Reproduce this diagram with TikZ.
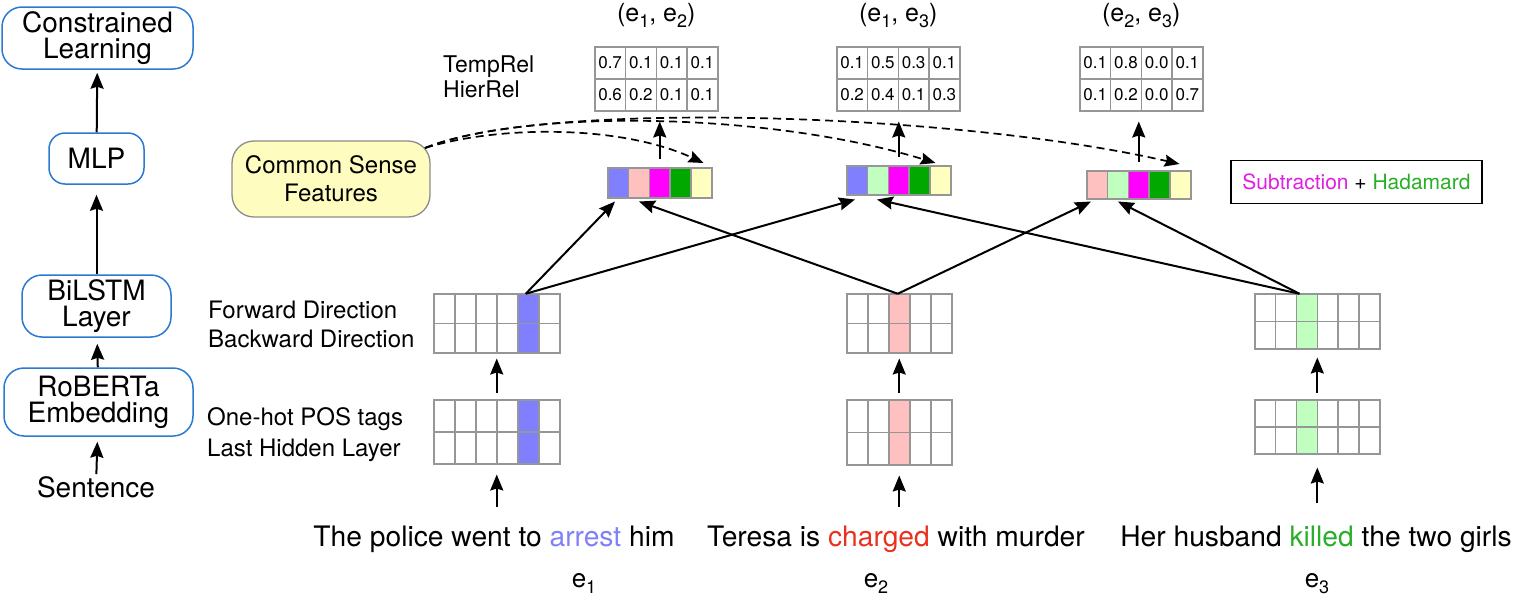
\documentclass[tikz,border=0pt]{standalone}
\usepackage{fontspec}
\setmainfont{TeX Gyre Heros}
\usetikzlibrary{arrows.meta,matrix}
\definecolor{boxblue}{RGB}{42,122,212}
\definecolor{gridgray}{RGB}{150,150,150}
\definecolor{csgray}{RGB}{140,140,140}
\definecolor{cblue}{RGB}{128,128,255}
\definecolor{cpink}{RGB}{255,192,192}
\definecolor{cgreenl}{RGB}{192,255,192}
\definecolor{cmag}{RGB}{255,0,255}
\definecolor{cgreen}{RGB}{0,168,0}
\definecolor{cyel}{RGB}{255,255,192}
\definecolor{csyel}{RGB}{254,252,190}
\definecolor{tblue}{RGB}{128,128,250}
\definecolor{tred}{RGB}{232,50,30}
\definecolor{tgreen}{RGB}{40,175,40}
\definecolor{tmag}{RGB}{225,30,225}
\newcommand{\myfs}[2]{\fontsize{#1}{#2}\selectfont}
\newcommand{\mysub}[1]{\raisebox{-0.25em}{\myfs{18}{18}#1}}
\begin{document}
\begin{tikzpicture}[x=1pt,y=-1pt,
  arr/.style={line width=2pt,-{Stealth[length=16pt,width=13pt,inset=2pt]}},
  dsh/.style={line width=1.7pt,dash pattern=on 8pt off 5pt,-{Stealth[length=15pt,width=12pt,inset=2pt]}},
  lbox/.style={draw=boxblue,line width=1.5pt,rounded corners=20pt,align=center,inner sep=0pt,font=\myfs{28}{26}},
  gridm/.style={matrix of nodes,nodes in empty cells,inner sep=0pt,outer sep=0pt,column sep=-1.5pt,row sep=-1.5pt,anchor=north west,
    nodes={draw=gridgray,line width=1.5pt,inner sep=0pt,outer sep=0pt,anchor=center}},
  tabm/.style={gridm,nodes={minimum width=30.75pt,minimum height=32pt,font=\myfs{17}{17}}},
  lbl/.style={anchor=base west,font=\myfs{24}{24},inner sep=0pt},
  sent/.style={anchor=base,font=\myfs{28.2}{28},inner sep=0pt},
  elbl/.style={anchor=base,font=\myfs{26}{26},inner sep=0pt}
]
\useasboundingbox (0,0) rectangle (1513,600);

% ---------- left column ----------
\node[lbox,minimum width=191pt,minimum height=62pt] (cl) at (97.5,38) {Constrained\\Learning};
\node[lbox,rounded corners=16pt,minimum width=95pt,minimum height=51pt] (mlp) at (96.5,158.5) {MLP};
\node[lbox,minimum width=149pt,minimum height=62pt] (bil) at (96.5,306) {BiLSTM\\Layer};
\node[lbox,minimum width=189pt,minimum height=68pt] (rob) at (98.5,402) {RoBERTa\\Embedding};
\node[font=\myfs{28}{28},inner sep=2pt] (sen) at (96,487) {Sentence};
\draw[arr,shorten >=5pt] (sen) -- (rob);
\draw[arr,shorten >=6pt] (rob) -- (bil);
\draw[arr,shorten >=10pt] (bil) -- (mlp);
\draw[arr,shorten >=3pt] (mlp) -- (cl);

% ---------- top tables ----------
\matrix[tabm] (t1) at (594,46) {
0.7 & 0.1 & 0.1 & 0.1\\
0.6 & 0.2 & 0.1 & 0.1\\
};
\matrix[tabm] (t2) at (836,46) {
0.1 & 0.5 & 0.3 & 0.1\\
0.2 & 0.4 & 0.1 & 0.3\\
};
\matrix[tabm] (t3) at (1079,46) {
0.1 & 0.8 & 0.0 & 0.1\\
0.1 & 0.2 & 0.0 & 0.7\\
};
\node[anchor=base,font=\myfs{25}{25},inner sep=0pt] (p12) at (t1.north |- 0,21) {(e\mysub{1}, e\mysub{2})};
\node[anchor=base,font=\myfs{25}{25},inner sep=0pt] (p13) at (t2.north |- 0,21) {(e\mysub{1}, e\mysub{3})};
\node[anchor=base,font=\myfs{25}{25},inner sep=0pt] (p23) at (t3.north |- 0,21) {(e\mysub{2}, e\mysub{3})};
\node[lbl,font=\myfs{23}{23}] (tr) at (443,72) {TempRel};
\node[lbl,font=\myfs{23}{23}] (hr) at (443,97) {HierRel};

% ---------- concatenated vectors ----------
\matrix[gridm,nodes={minimum width=20.8pt,minimum height=30pt}] (v1) at (607,167) {
|[fill=cblue]| & |[fill=cpink]| & |[fill=cmag]| & |[fill=cgreen]| & |[fill=cyel]| \\
};
\matrix[gridm,nodes={minimum width=20.8pt,minimum height=29pt}] (v2) at (846,165) {
|[fill=cblue]| & |[fill=cgreenl]| & |[fill=cmag]| & |[fill=cgreen]| & |[fill=cyel]| \\
};
\matrix[gridm,nodes={minimum width=20.8pt,minimum height=28pt}] (v3) at (1086,170) {
|[fill=cpink]| & |[fill=cgreenl]| & |[fill=cmag]| & |[fill=cgreen]| & |[fill=cyel]| \\
};
\draw[arr,shorten >=10pt] ([yshift=8pt]v1.north) -- (v1.north |- t1.south);
\draw[arr,shorten >=10pt] ([yshift=8pt]v2.north) -- (v2.north |- t2.south);
\draw[arr,shorten >=10pt] ([yshift=8pt]v3.north) -- (v3.north |- t3.south);

% ---------- common sense + legend ----------
\node[draw=csgray,fill=csyel,line width=1.3pt,rounded corners=22pt,minimum width=198pt,minimum height=76pt,align=center,font=\myfs{24}{28},inner sep=0pt] (cs) at (331,179) {Common Sense\\Features};
\node[draw=black,line width=1.5pt,minimum width=251pt,minimum height=43pt,inner sep=0pt,font=\myfs{21}{21}] (leg) at (1356.5,182) {{\color{tmag}Subtraction} + {\color{tgreen}Hadamard}};
\coordinate (csout) at (425,148);
\draw[dsh] (csout) .. controls +(75,-23) and +(-82,-38) .. ([xshift=-9pt,yshift=4pt]v1.north east);
\draw[dsh] (csout) .. controls +(95,-38) and +(-174,-53) .. ([xshift=-16pt,yshift=2pt]v2.north east);
\draw[dsh] (csout) .. controls +(115,-48) and +(-227,-52) .. ([xshift=-12pt,yshift=6pt]v3.north east);

% ---------- BiLSTM grids ----------
\matrix[gridm,nodes={minimum width=21pt,minimum height=29.5pt}] (b1) at (433,293) {
 & & & & |[fill=cblue]| & \\
 & & & & |[fill=cblue]| & \\
};
\matrix[gridm,nodes={minimum width=21pt,minimum height=29.5pt}] (b2) at (846,293) {
 & & |[fill=cpink]| & & \\
 & & |[fill=cpink]| & & \\
};
\matrix[gridm,nodes={minimum width=20.85pt,minimum height=27.5pt}] (b3) at (1254,293) {
 & & |[fill=cgreenl]| & & & \\
 & & |[fill=cgreenl]| & & & \\
};
% ---------- POS grids ----------
\matrix[gridm,nodes={minimum width=21pt,minimum height=32pt}] (p1) at (433,399) {
 & & & & |[fill=cblue]| & \\
 & & & & |[fill=cblue]| & \\
};
\matrix[gridm,nodes={minimum width=21pt,minimum height=32.5pt}] (p2) at (846,399) {
 & & |[fill=cpink]| & & \\
 & & |[fill=cpink]| & & \\
};
\matrix[gridm,nodes={minimum width=20.85pt,minimum height=27pt}] (p3) at (1254,399) {
 & & |[fill=cgreenl]| & & & \\
 & & |[fill=cgreenl]| & & & \\
};

\node[lbl] (fd) at (208,318) {Forward Direction};
\node[lbl] (bd) at (208,347) {Backward Direction};
\node[lbl] (oh) at (207,425) {One-hot POS tags};
\node[lbl] (lh) at (207,456) {Last Hidden Layer};

% ---------- sentences ----------
\node[sent] (s1) at (494,546) {The police went to {\color{tblue}arrest} him};
\node[sent] (s2) at (896,546) {Teresa is {\color{tred}charged} with murder};
\node[sent] (s3) at (1316,546) {Her husband {\color{tgreen}killed} the two girls};
\node[elbl] (e1) at (584,587) {e\mysub{1}};
\node[elbl] (e2) at (876,587) {e\mysub{2}};
\node[elbl] (e3) at (1317,587) {e\mysub{3}};

\draw[arr,shorten <=18pt,shorten >=10pt] (s1.north -| p1.south) -- (p1.south);
\draw[arr,shorten <=18pt,shorten >=10pt] (s2.north -| p2.south) -- (p2.south);
\draw[arr,shorten <=22pt,shorten >=13pt] (s3.north -| p3.south) -- (p3.south);
\draw[arr,shorten >=5pt] ([yshift=6pt]p1.north) -- (b1.south);
\draw[arr,shorten >=5pt] ([yshift=6pt]p2.north) -- (b2.south);
\draw[arr,shorten >=8pt] ([yshift=6pt]p3.north) -- (b3.south);

% ---------- cross connections ----------
\coordinate (o1) at ([xshift=-2.5pt]b1-1-5.north);
\coordinate (o2) at ([xshift=-1.5pt]b2-1-3.north);
\coordinate (o3) at ([xshift=3pt]b3-1-3.north west);
\draw[arr] (o1) -- ([xshift=8pt,yshift=-3pt]v1.south west);
\draw[arr] (o1) -- ([xshift=9pt,yshift=-4pt]v2.south west);
\draw[arr] (o2) -- ([xshift=32pt,yshift=-3pt]v1.south west);
\draw[arr] (o2) -- ([xshift=5pt,yshift=-2pt]v3.south west);
\draw[arr] (o3) -- ([xshift=31pt,yshift=-4pt]v2.south west);
\draw[arr] (o3) -- ([xshift=32pt,yshift=-2pt]v3.south west);
\end{tikzpicture}
\end{document}
